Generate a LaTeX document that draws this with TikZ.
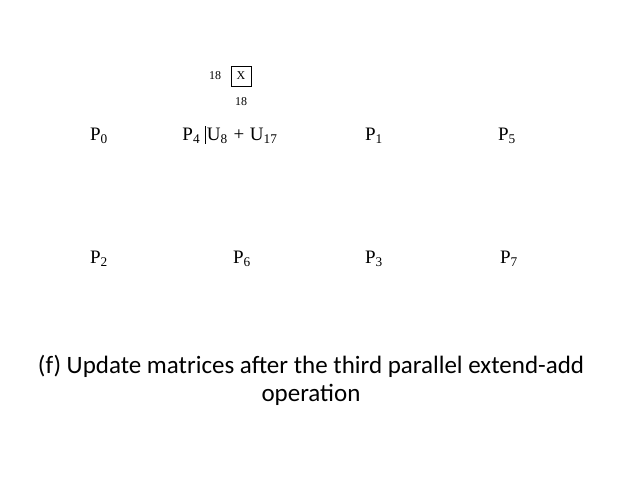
\documentclass[tikz,border=0pt]{standalone}
\usepackage{fontspec}
\setmainfont{Liberation Serif}
\newfontfamily\capfont{Carlito}
\begin{document}
\begin{tikzpicture}[x=1pt,y=-1pt,
  proc/.style={inner sep=0pt, font=\fontsize{19}{21}\selectfont, anchor=base},
  small/.style={inner sep=0pt, font=\fontsize{12}{14}\selectfont},
  captext/.style={inner sep=0pt, font=\capfont\fontsize{25}{28}\selectfont, align=center}]
\useasboundingbox[fill=white] (0,0) rectangle (638,478);
\node[proc] (p0) at (99,141) {P$_{\mathrm{0}}$};
\node[proc] (p4) at (230,141) {P$_{\mathrm{4}}$\hspace{5pt}\rule[-3pt]{0.7pt}{18pt}\hspace{1pt}U$_{\mathrm{8}}$\hspace{1pt} + \hspace{1pt}U$_{\mathrm{17}}$};
\node[proc] (p1) at (374,141) {P$_{\mathrm{1}}$};
\node[proc] (p5) at (507,141) {P$_{\mathrm{5}}$};
\node[proc] (p2) at (99,264) {P$_{\mathrm{2}}$};
\node[proc] (p6) at (242,264) {P$_{\mathrm{6}}$};
\node[proc] (p3) at (374,264) {P$_{\mathrm{3}}$};
\node[proc] (p7) at (509,264) {P$_{\mathrm{7}}$};
\node[small] (r18) at (215,76) {18};
\node[small, draw, line width=0.9pt, minimum width=20pt, minimum height=20pt] (x) at (241,76) {X};
\node[small] (c18) at (241,102) {18};
\node[captext] (captn) at (311,380) {(f) Update matrices after the third parallel extend-add\\operation};
\end{tikzpicture}
\end{document}
